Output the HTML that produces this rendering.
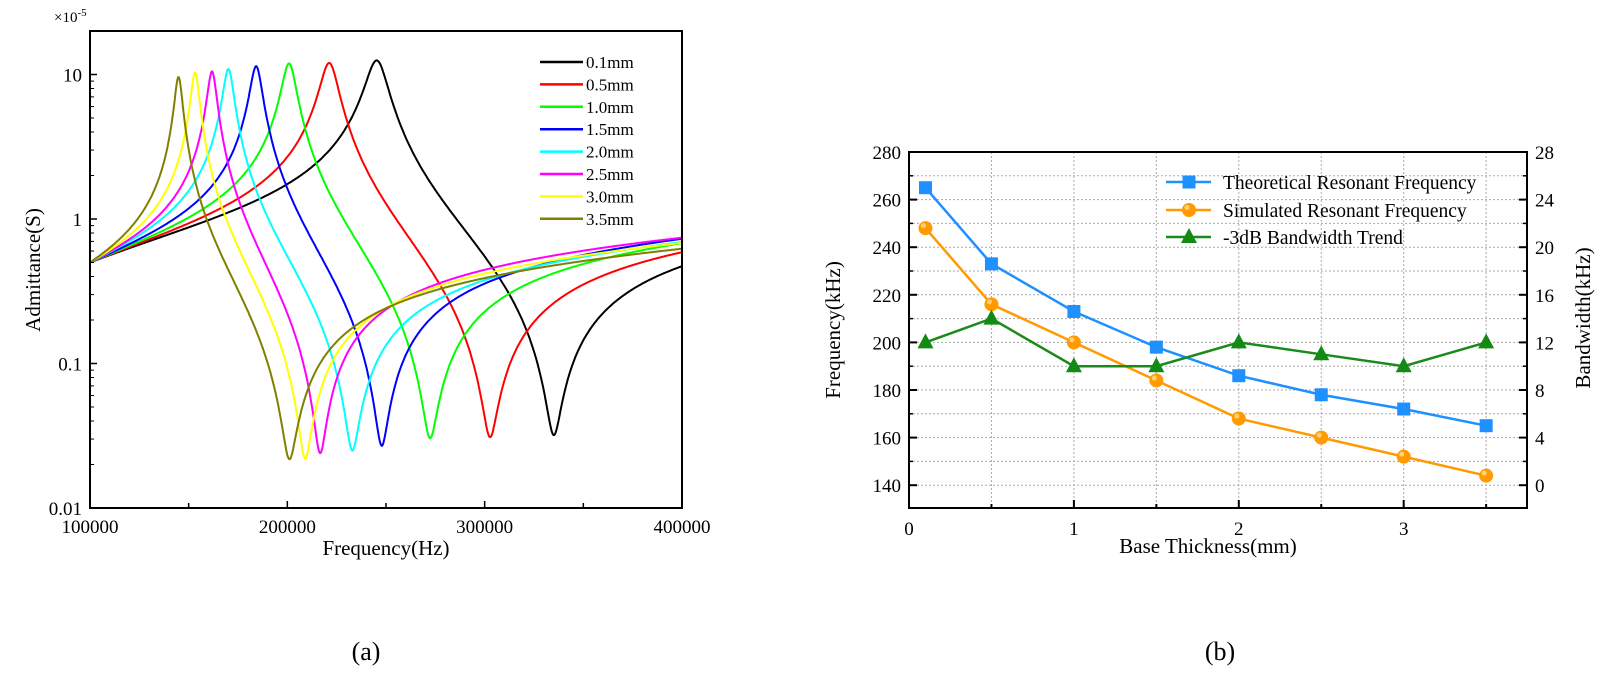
<!DOCTYPE html>
<html><head><meta charset="utf-8"><style>
html,body{margin:0;padding:0;background:#fff;}
svg{display:block;font-family:"Liberation Serif",serif;}
</style></head><body>
<svg id="s" width="1600" height="689" viewBox="0 0 1600 689" xmlns="http://www.w3.org/2000/svg">
<rect width="1600" height="689" fill="#fff"/>
<g id="L"></g>
<g id="R"></g>
<text x="366" y="660" font-size="26" text-anchor="middle">(a)</text>
<text x="1220" y="660" font-size="26" text-anchor="middle">(b)</text>
</svg>
<script>
var NS="http://www.w3.org/2000/svg";
function el(p,t,a,txt){var e=document.createElementNS(NS,t);for(var k in a)e.setAttribute(k,a[k]);if(txt!==undefined)e.textContent=txt;p.appendChild(e);return e;}
// ---------- Left plot ----------
var L=document.getElementById('L');
var x0=90,x1=682,yb=508,yt=31,dec=144.5;
function fx(f){return x0+(f-100)*(x1-x0)/300;}
function fy(v){return yb-dec*(Math.log10(v)+2);}
var data=[
['#000',245.5,335,12.5,0.032],
['#f00',221.4,302.7,12.0,0.031],
['#0f0',201,272.3,11.9,0.0305],
['#00f',184.3,247.8,11.4,0.027],
['#0ff',170.2,232.9,10.9,0.025],
['#f0f',161.9,216.6,10.5,0.024],
['#ff0',153.3,209,10.3,0.022],
['#808000',144.9,201,9.6,0.0218]];
function Y(f,A,fr,fa,Qr,Qa){
 var nr=fa*fa-f*f, ni=f*fa/Qa, dr=fr*fr-f*f, di=f*fr/Qr;
 return A*f*Math.sqrt(nr*nr+ni*ni)/Math.sqrt(dr*dr+di*di);}
var names=['0.1mm','0.5mm','1.0mm','1.5mm','2.0mm','2.5mm','3.0mm','3.5mm'];
data.forEach(function(d,i){
 var c=d[0],fr=d[1],fa=d[2],P=d[3],D=d[4];
 var A=0.5/100*Math.abs(fr*fr-1e4)/Math.abs(fa*fa-1e4);
 var Qr=P*fr*fr/(A*fr*(fa*fa-fr*fr));
 var Qa=A*fa*fa*fa/(D*(fa*fa-fr*fr));
 // rescale A so high end ~0.55-0.7
 var pts=[];
 for(var f=100;f<=400;f+=0.25){var v=Y(f,A,fr,fa,Qr,Qa);v=Math.max(0.0101,Math.min(19,v));pts.push(fx(f).toFixed(1)+','+fy(v).toFixed(1));}
 el(L,'polyline',{points:pts.join(' '),fill:'none',stroke:c,'stroke-width':2});
 var ly=62+i*22.4;
 el(L,'line',{x1:540,x2:583,y1:ly,y2:ly,stroke:c,'stroke-width':2.5});
 el(L,'text',{x:586,y:ly+6,'font-size':17},names[i]);
});
el(L,'rect',{x:x0,y:yt,width:x1-x0,height:yb-yt,fill:'none',stroke:'#000','stroke-width':2});
[0.01,0.1,1,10].forEach(function(v){var y=fy(v);el(L,'line',{x1:x0,x2:x0+7,y1:y,y2:y,stroke:'#000','stroke-width':1.5});
 el(L,'text',{x:x0-8,y:y+7,'font-size':19,'text-anchor':'end'},String(v));});
for(var e=-2;e<=1;e++)for(var m=2;m<=9;m++){var v=m*Math.pow(10,e);var y=fy(v);if(y<yt)continue;el(L,'line',{x1:x0,x2:x0+4,y1:y,y2:y,stroke:'#000','stroke-width':1});}
[100,150,200,250,300,350,400].forEach(function(f){var x=fx(f);el(L,'line',{x1:x,x2:x,y1:yb,y2:yb-(f%100?5:7),stroke:'#000','stroke-width':1.5});
 if(f%100==0)el(L,'text',{x:x,y:yb+25,'font-size':19,'text-anchor':'middle'},String(f*1000));});
el(L,'text',{x:386,y:555,'font-size':21,'text-anchor':'middle'},'Frequency(Hz)');
el(L,'text',{x:0,y:0,'font-size':21,'text-anchor':'middle',transform:'translate(40,270) rotate(-90)'},'Admittance(S)');
var t=el(L,'text',{x:54,y:22,'font-size':15},'×10');el(t,'tspan',{dy:-6,'font-size':11},'-5');
// ---------- Right plot ----------
var R=document.getElementById('R');
var X0=909,X1=1527,YT=152,YB=508;
function gx(v){return X0+v*164.9;}
function gy(F){return YT+(280-F)*2.38;}
for(var v=0.5;v<3.75;v+=0.5){var x=gx(v);el(R,'line',{x1:x,x2:x,y1:YT,y2:YB,stroke:'#aaa','stroke-width':1,'stroke-dasharray':'2,2'});}
for(var F=140;F<=270;F+=10){var y=gy(F);el(R,'line',{x1:X0,x2:X1,y1:y,y2:y,stroke:'#aaa','stroke-width':1,'stroke-dasharray':'2,2'});}
el(R,'rect',{x:X0,y:YT,width:X1-X0,height:YB-YT,fill:'none',stroke:'#000','stroke-width':2});
for(var F=140;F<=280;F+=20){var y=gy(F);el(R,'line',{x1:X0,x2:X0+8,y1:y,y2:y,stroke:'#000','stroke-width':2});el(R,'line',{x1:X1,x2:X1-8,y1:y,y2:y,stroke:'#000','stroke-width':2});
 el(R,'text',{x:X0-8,y:y+7,'font-size':19,'text-anchor':'end'},String(F));
 el(R,'text',{x:X1+8,y:y+7,'font-size':19},String((F-140)/5));}
for(var F=150;F<=270;F+=20){var y=gy(F);el(R,'line',{x1:X0,x2:X0+4,y1:y,y2:y,stroke:'#000','stroke-width':1.5});el(R,'line',{x1:X1,x2:X1-4,y1:y,y2:y,stroke:'#000','stroke-width':1.5});}
for(var v=0;v<=3.5;v+=0.5){var x=gx(v);el(R,'line',{x1:x,x2:x,y1:YB,y2:YB-(v%1?4:8),stroke:'#000','stroke-width':2});
 if(v%1==0)el(R,'text',{x:x,y:YB+27,'font-size':19,'text-anchor':'middle'},String(v));}
var xs=[0.1,0.5,1,1.5,2,2.5,3,3.5];
var th=[265,233,213,198,186,178,172,165],sm=[248,216,200,184,168,160,152,144],bw=[12,14,10,10,12,11,10,12];
function line(arr,c){el(R,'polyline',{points:arr.map(function(F,i){return gx(xs[i])+','+gy(F);}).join(' '),fill:'none',stroke:c,'stroke-width':2.5});}
line(th,'#1e90ff');line(sm,'#ff9a00');line(bw.map(function(b){return 140+5*b;}),'#1a8a1a');
function sq(x,y){el(R,'rect',{x:x-6.5,y:y-6.5,width:13,height:13,fill:'#1e90ff'});}
function ci(x,y){el(R,'circle',{cx:x,cy:y,r:7,fill:'#ff9a00'});el(R,'circle',{cx:x-2,cy:y-2.5,r:2.5,fill:'#ffd27a'});}
function tr(x,y){el(R,'polygon',{points:(x-8)+','+(y+6)+' '+(x+8)+','+(y+6)+' '+x+','+(y-9),fill:'#138a13'});}
xs.forEach(function(v,i){sq(gx(v),gy(th[i]));ci(gx(v),gy(sm[i]));tr(gx(v),gy(140+5*bw[i]));});
var leg=[['#1e90ff',sq,'Theoretical Resonant Frequency',182],['#ff9a00',ci,'Simulated Resonant Frequency',210],['#1a8a1a',tr,'-3dB Bandwidth Trend',237]];
leg.forEach(function(l){el(R,'line',{x1:1166,x2:1211,y1:l[3],y2:l[3],stroke:l[0],'stroke-width':2.5});l[1](1189,l[3]);
 el(R,'text',{x:1223,y:l[3]+7,'font-size':19.5},l[2]);});
el(R,'text',{x:1208,y:553,'font-size':21,'text-anchor':'middle'},'Base Thickness(mm)');
el(R,'text',{x:0,y:0,'font-size':21,'text-anchor':'middle',transform:'translate(840,330) rotate(-90)'},'Frequency(kHz)');
el(R,'text',{x:0,y:0,'font-size':21,'text-anchor':'middle',transform:'translate(1590,318) rotate(-90)'},'Bandwidth(kHz)');
</script>
</body></html>
